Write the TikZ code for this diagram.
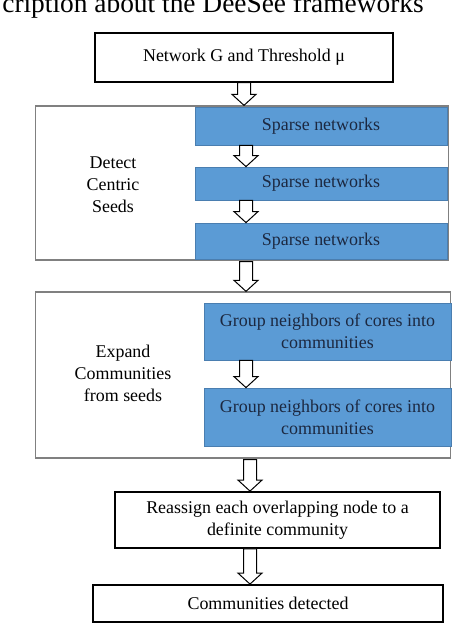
\documentclass[tikz,border=0pt]{standalone}
\usepackage{fontspec}
\setmainfont{Liberation Serif}
\usetikzlibrary{calc}
\definecolor{bluefill}{HTML}{5B9BD5}
\definecolor{blueedge}{HTML}{4A7EB0}
\definecolor{bluetext}{HTML}{1C2840}
\definecolor{outergray}{HTML}{808080}
\begin{document}
\begin{tikzpicture}[x=1bp,y=-1bp,
  txt/.style={font=\fontsize{18}{22}\selectfont, align=center, inner sep=0},
  whitebox/.style={txt, draw=black, line width=1.3bp, fill=white},
  bluebox/.style={txt, draw=blueedge, line width=0.8bp, fill=bluefill, text=bluetext},
  outerbox/.style={draw=outergray, line width=1.3bp, fill=white, inner sep=0},
  barrow/.style={draw=black, fill=white, line width=1bp, line join=miter,
    to path={let \p1=(\tikztostart), \p2=(\tikztotarget) in
      (\x1-6.5bp,\y1) -- (\x1+6.5bp,\y1) -- (\x1+6.5bp,\y2+11bp) -- (\x1+12bp,\y2+11bp)
      -- (\x1,\y2) -- (\x1-12bp,\y2+11bp) -- (\x1-6.5bp,\y2+11bp) -- cycle}}
]
\useasboundingbox (0,0) rectangle (452,624);

\node[anchor=base east, font=\fontsize{27.5}{32}\selectfont, inner sep=0] (title) at (424,13) {cription about the DeeSee frameworks};

% top box
\node[whitebox, minimum width=298bp, minimum height=49bp] (net) at (244,57.5) {Network G and Threshold μ};

% outer box 1
\node[outerbox, minimum width=413bp, minimum height=154bp] (outer1) at (242,183) {};
\node[bluebox, minimum width=252bp, minimum height=38bp] (sp1) at (321,126) {Sparse networks};
\node[bluebox, minimum width=252bp, minimum height=33bp] (sp2) at (321,183.5) {Sparse networks};
\node[bluebox, minimum width=252bp, minimum height=36bp] (sp3) at (321,241) {Sparse networks};
\node[txt] (detect) at (113,185) {Detect\\Centric\\Seeds};

% outer box 2
\node[outerbox, minimum width=415bp, minimum height=166bp] (outer2) at (243,375) {};
\node[bluebox, minimum width=247bp, minimum height=57bp] (gr1) at (327.5,331.5) {Group neighbors of cores into\\communities};
\node[bluebox, minimum width=247bp, minimum height=58bp] (gr2) at (327.5,417) {Group neighbors of cores into\\communities};
\node[txt] (expand) at (123,373) {Expand\\Communities\\from seeds};

% bottom boxes
\node[whitebox, line width=1.8bp, minimum width=325bp, minimum height=56bp] (reassign) at (277.5,520) {Reassign each overlapping node to a\\definite community};
\node[whitebox, line width=1.8bp, minimum width=350bp, minimum height=37bp] (comm) at (268,603.5) {Communities detected};

% arrow x positions
\coordinate (ax1) at (246,0);
\coordinate (ax2) at (250,0);

% arrows
\draw[barrow] (net.south) to (outer1.north -| net.south);
\draw[barrow] (sp1.south -| ax1) to (sp2.north -| ax1);
\draw[barrow] (sp2.south -| ax1) to (sp3.north -| ax1);
\draw[barrow] ([yshift=-1bp]outer1.south -| ax1) to (outer2.north -| ax1);
\draw[barrow] (gr1.south -| ax1) to (gr2.north -| ax1);
\draw[barrow] ([yshift=-1bp]outer2.south -| ax2) to (reassign.north -| ax2);
\draw[barrow] (reassign.south -| ax2) to (comm.north -| ax2);
\end{tikzpicture}
\end{document}
